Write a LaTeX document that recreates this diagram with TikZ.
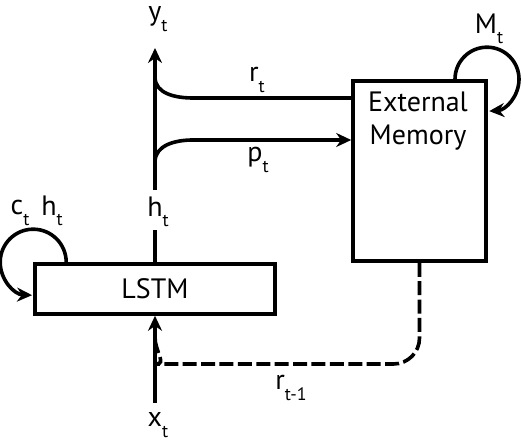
\documentclass[tikz,border=0pt]{standalone}
\usepackage{fontspec}
\setmainfont{PT Sans}
\usetikzlibrary{arrows.meta}
\usetikzlibrary{calc}
\usetikzlibrary{positioning}
\tikzset{
  every picture/.style={font={\fontsize{14}{16.5}\selectfont}, >={Stealth[length=7.5pt,width=7pt]}}}
\newcommand{\lbl}[2]{{\fontsize{14}{15}\selectfont#1}\raisebox{-0.75ex}{\fontsize{9}{10}\selectfont#2}}

\begin{document}
\begin{tikzpicture}[x=0.5pt, y=0.5pt, line width=1.8pt,
    block/.style={draw, rectangle, inner sep=0pt},
    tag/.style={inner sep=0pt},
    feedback/.style={dash pattern=on 7pt off 2.2pt}]
  \useasboundingbox (0,0) rectangle (523,443);

  % boxes
  \node[block, minimum width=120pt, minimum height=25pt] (lstm) at (155,154) {LSTM};
  \node[block, minimum width=66.5pt, minimum height=90pt] (mem) at (419.5,272) {};
  \node[tag, align=center] (memtext) at (418,322) {External\\Memory};

  % labels
  \node[tag] (yt) at (158,424) {\lbl{y}{t}};
  \node[tag] (ht) at (158,231) {\lbl{h}{t}};
  \node[tag] (xt) at (158,18) {\lbl{x}{t}};
  \node[tag] (rt) at (257,363) {\lbl{r}{t}};
  \node[tag] (pt) at (258,283) {\lbl{p}{t}};
  \node[tag] (rprev) at (291,55) {\lbl{r}{t-1}};
  \node[tag] (Mt) at (489,414) {\lbl{M}{t}};
  \node[tag] (ct) at (20,230) {\lbl{c}{t}};
  \node[tag] (hc) at (52,232) {\lbl{h}{t}};

  % junctions on the stem
  \coordinate (stem) at (155,253);
  \coordinate (ytip) at (155,395);
  \coordinate (hfoot) at (155,213);
  \coordinate (xfoot) at (155,40);
  \coordinate (rjoin) at (155,366);
  \coordinate (pjoin) at (155,281);
  \coordinate (rprevjoin) at (155,106);
  \coordinate (rbend) at (193,345);
  \coordinate (pbend) at (193,303);
  \coordinate (rbot) at (182,79);

  \draw[->] (stem) -- (ytip);
  \draw (lstm.north) -- (hfoot);
  \draw[->] (xfoot) -- (lstm.south);

  \draw (rjoin) to[out=-90, in=180] (rbend) -- (rbend -| mem.west);
  \draw[->] (pjoin) to[out=90, in=180] (pbend) -- (pbend -| mem.west);

  % recurrent loops
  \draw[->] ($(lstm.north west)+(33,0)$) arc[start angle=0, end angle=268, radius=33];
  \draw[->] ($(mem.north)+(35.5,0)$) arc[start angle=180, end angle=-86, radius=32];

  % read vector fed back
  \draw[feedback] (mem.south) [rounded corners=13pt] |- (rbot)
    [sharp corners] to[out=180, in=-90] (rprevjoin);
\end{tikzpicture}
\end{document}
